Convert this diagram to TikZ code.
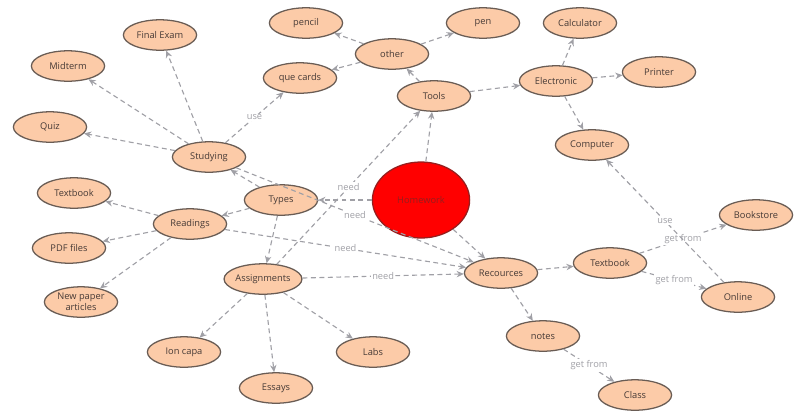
\documentclass[tikz,border=0pt]{standalone}
\usepackage{fontspec}
\setmainfont{Open Sans}
\usetikzlibrary{shapes.geometric,arrows.meta}
\definecolor{peach}{RGB}{252,203,168}
\definecolor{rimbrown}{RGB}{105,92,84}
\definecolor{inkbrown}{RGB}{70,58,54}
\definecolor{linkgray}{RGB}{160,160,166}
\definecolor{hubred}{RGB}{255,0,0}
\definecolor{hubrim}{RGB}{150,30,30}

\begin{document}
\begin{tikzpicture}[
    x=0.025cm, y=-0.025cm,
    concept/.style={ellipse, draw=rimbrown, fill=peach, line width=0.9pt, minimum width=1.83cm, minimum height=0.76cm, inner sep=0pt, align=center, text=inkbrown, font=\fontsize{6.6}{7.6}\selectfont},
    hub/.style={concept, fill=hubred, draw=hubrim, minimum width=2.43cm, minimum height=1.9cm, text=hubrim},
    link/.style={-{Stealth[length=1.8mm,width=1.6mm]}, draw=linkgray, line width=0.8pt, dash pattern=on 3.5pt off 2.5pt},
    tag/.style={fill=white, inner sep=1pt, text=linkgray, font=\fontsize{6.6}{7.6}\selectfont}
]
\useasboundingbox (0,0) rectangle (800,416);

\node[hub] (homework) at (421,200) {Homework};

\node[concept] (pencil) at (306,23) {pencil};
\node[concept] (pen) at (483,23) {pen};
\node[concept] (calculator) at (580,23) {Calculator};
\node[concept] (finalexam) at (160,35) {Final Exam};
\node[concept] (other) at (392,54) {other};
\node[concept] (midterm) at (68,66) {Midterm};
\node[concept] (printer) at (659,72) {Printer};
\node[concept] (quecards) at (300,78) {que cards};
\node[concept] (electronic) at (556,81) {Electronic};
\node[concept] (tools) at (434,96) {Tools};
\node[concept] (quiz) at (50,127) {Quiz};
\node[concept] (computer) at (592,145) {Computer};
\node[concept] (studying) at (209,157) {Studying};
\node[concept] (textbookL) at (74,193) {Textbook};
\node[concept] (types) at (281,200) {Types};
\node[concept] (bookstore) at (756,215) {Bookstore};
\node[concept] (readings) at (190,224) {Readings};
\node[concept] (pdffiles) at (69,248) {PDF files};
\node[concept] (textbookR) at (610,263) {Textbook};
\node[concept] (recources) at (501,273) {Recources};
\node[concept] (assignments) at (263,279) {Assignments};
\node[concept] (online) at (738,297) {Online};
\node[concept] (newpaper) at (81,302) {New paper\\articles};
\node[concept] (notes) at (543,336) {notes};
\node[concept] (ioncapa) at (184,352) {Ion capa};
\node[concept] (labs) at (373,352) {Labs};
\node[concept] (essays) at (276,388) {Essays};
\node[concept] (class) at (635,395) {Class};

% from the centre
\draw[link] (homework) -- (types);
\draw[link] (homework) -- (tools);
\draw[link] (homework) -- (recources);

% studying side
\draw[link] (types) -- (studying);
\draw[link] (types) -- (readings);
\draw[link] (types) -- (assignments);
\draw[link] (studying) -- (finalexam);
\draw[link] (studying) -- (midterm);
\draw[link] (studying) -- (quiz);
\draw[link] (studying) -- node[tag] {use} (quecards);
\draw[link] (readings) -- (textbookL);
\draw[link] (readings) -- (pdffiles);
\draw[link] (readings) -- (newpaper);
\draw[link] (assignments) -- (ioncapa);
\draw[link] (assignments) -- (essays);
\draw[link] (assignments) -- (labs);

% needs
\draw[link] (assignments) -- node[tag] {need} (tools);
\draw[link] (studying) -- node[tag] {need} (recources);
\draw[link] (readings) -- node[tag] {need} (recources);
\draw[link] (assignments) -- node[tag] {need} (recources);

% tools
\draw[link] (tools) -- (other);
\draw[link] (tools) -- (electronic);
\draw[link] (other) -- (pencil);
\draw[link] (other) -- (pen);
\draw[link] (other) -- (quecards);
\draw[link] (electronic) -- (calculator);
\draw[link] (electronic) -- (printer);
\draw[link] (electronic) -- (computer);

% recources
\draw[link] (recources) -- (textbookR);
\draw[link] (recources) -- (notes);
\draw[link] (textbookR) -- node[tag] {get from} (bookstore);
\draw[link] (textbookR) -- node[tag] {get from} (online);
\draw[link] (online) -- node[tag] {use} (computer);
\draw[link] (notes) -- node[tag] {get from} (class);
\end{tikzpicture}
\end{document}
